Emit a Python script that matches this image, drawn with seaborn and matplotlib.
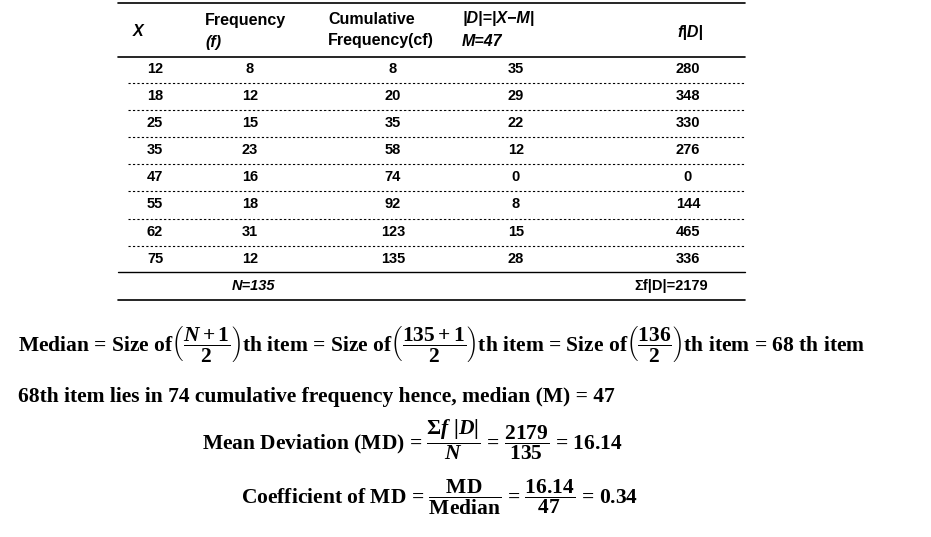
import matplotlib.pyplot as plt
import seaborn as sns

# table values
x_vals = [12, 18, 25, 35, 47, 55, 62, 75]
freq = [8, 12, 15, 23, 16, 18, 31, 12]
cum_freq = [8, 20, 35, 58, 74, 92, 123, 135]
abs_dev = [35, 29, 22, 12, 0, 8, 15, 28]
f_dev = [280, 348, 330, 276, 0, 144, 465, 336]
total_n = 135
total_fdev = 2179

sns.set_style("white")
plt.rcParams['font.family'] = ['Liberation Sans', 'DejaVu Sans']
plt.rcParams['mathtext.fontset'] = 'custom'
plt.rcParams['mathtext.rm'] = 'Liberation Serif:bold'
plt.rcParams['mathtext.it'] = 'Liberation Serif:italic:bold'
plt.rcParams['mathtext.bf'] = 'Liberation Serif:bold'

fig = plt.figure(figsize=(9.31, 5.37), dpi=100)
ax = fig.add_axes([0, 0, 1, 1])
ax.set_xlim(0, 931)
ax.set_ylim(537, 0)
ax.axis('off')

tk = dict(fontsize=10.5, fontweight='bold', va='center', color='black')
hk = dict(fontsize=11.5, fontweight='bold', va='center', color='black')

# rules
ax.plot([118, 745], [3, 3], color='black', lw=1.2)
ax.plot([118, 745], [57, 57], color='black', lw=1.2)
ax.plot([118, 745], [272, 272], color='black', lw=1.0)
ax.plot([118, 745], [300, 300], color='black', lw=1.2)

# header
ax.text(133, 31, 'X', style='italic', **hk)
ax.text(205, 20, 'Frequency', **hk)
ax.text(205, 42, '(f)', style='italic', **hk)
ax.text(328, 20, 'Cumulative', **hk)
ax.text(328, 40, 'Frequency(cf)', **hk)
ax.text(462, 19, '|D|=|X−M|', style='italic', **hk)
ax.text(462, 42, 'M=47', style='italic', **hk)
ax.text(690, 33, 'f|D|', style='italic', ha='center', **hk)

# body
row_y0, row_h = 69, 27.1
for i in range(len(x_vals)):
    y = row_y0 + i * row_h
    ax.text(155, y, str(x_vals[i]), ha='center', **tk)
    ax.text(250, y, str(freq[i]), ha='center', **tk)
    ax.text(393, y, str(cum_freq[i]), ha='center', **tk)
    ax.text(516, y, str(abs_dev[i]), ha='center', **tk)
    ax.text(688, y, str(f_dev[i]), ha='center', **tk)
    if i < len(x_vals) - 1:
        ax.plot([128, 745], [y + 14, y + 14], color='black', lw=0.8, ls=(0, (2, 2)))

ax.text(232, 286, f'N={total_n}', style='italic', **tk)
ax.text(634, 286, f'Σf|D|={total_fdev}', **tk)

# working below
fs = 15.5
common = dict(fontsize=fs, fontfamily='Liberation Serif', fontweight='bold',
              va='center', color='black')
ax.text(18, 344, r'Median = Size of$\left(\dfrac{N+1}{2}\right)$th item = Size of'
        r'$\left(\dfrac{135+1}{2}\right)$th item = Size of$\left(\dfrac{136}{2}\right)$'
        r'th item = 68 th item', **common)
ax.text(18, 397, '68th item lies in 74 cumulative frequency hence, median (M) = 47', **common)
ax.text(202, 440, r'Mean Deviation (MD) = $\dfrac{\Sigma f\ |D|}{N}$ = $\dfrac{2179}{135}$ = 16.14',
        **common)
ax.text(241, 497, r'Coefficient of MD = $\dfrac{\mathrm{MD}}{\mathrm{Median}}$ = $\dfrac{16.14}{47}$ = 0.34',
        **common)

fig.savefig('out.png', dpi=100)
